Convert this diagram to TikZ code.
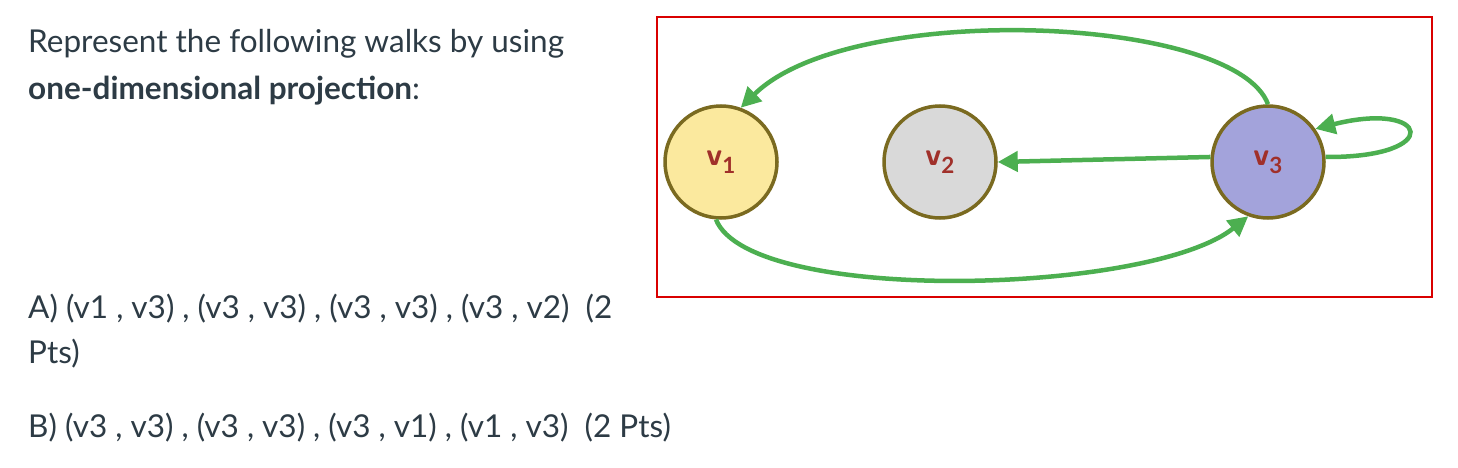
\documentclass[tikz,border=0pt]{standalone}
\usepackage{fontspec}
\setmainfont{Lato}
\usetikzlibrary{arrows.meta}
\definecolor{txt}{HTML}{2D3B45}
\definecolor{edge}{HTML}{4CAF50}
\definecolor{rim}{HTML}{7A6A20}
\definecolor{lbl}{HTML}{A0302A}
\definecolor{c1}{HTML}{FBE99E}
\definecolor{c2}{HTML}{D9D9D9}
\definecolor{c3}{HTML}{A3A3DB}
\tikzset{
  vert/.style={circle,draw=rim,line width=3.5pt,minimum size=112pt,inner sep=0pt,font=\fontsize{32}{36}\selectfont\bfseries\sffamily,text=lbl},
  ln/.style={anchor=base west,text=txt,font=\fontsize{31.5}{36}\selectfont,inner sep=0pt},
  gr/.style={draw=edge,line width=4.5pt,-{Triangle[length=20pt,width=20pt]}}
}
\begin{document}
\begin{tikzpicture}[x=1pt,y=-1pt]
\useasboundingbox (0,0) rectangle (1458,468);
\draw[red!85!black,line width=1.2pt] (657,17) rectangle (1432,297);
\node[ln] (t1) at (28,53) {Represent the following walks by using};
\node[ln] (t2) at (28,100) {\textbf{one-dimensional projection}:};
\node[ln] (t3) at (28,318) {A) (v1 , v3) , (v3 , v3) , (v3 , v3) , (v3 , v2) \ (2};
\node[ln] (t4) at (28,363) {Pts)};
\node[ln] (t5) at (28,437) {B) (v3 , v3) , (v3 , v3) , (v3 , v1) , (v1 , v3) \ (2 Pts)};
\node[vert,fill=c1] (v1) at (721,162) {v$_{\mathbf 1}$};
\node[vert,fill=c2] (v2) at (940,162) {v$_{\mathbf 2}$};
\node[vert,fill=c3] (v3) at (1268,162) {v$_{\mathbf 3}$};
\draw[gr] (v3.90) .. controls (1235,15) and (850,0) .. (v1.70);
\draw[gr] (v3.175) -- (v2.0);
\draw[gr] (v3.5) .. controls (1445,158) and (1430,100) .. (v3.35);
\draw[gr] (v1.265) .. controls (750,305) and (1150,295) .. (v3.250);
\end{tikzpicture}
\end{document}
